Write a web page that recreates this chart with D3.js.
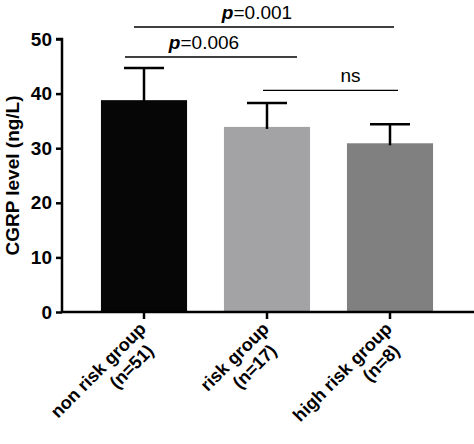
<!DOCTYPE html>
<html><head><meta charset="utf-8">
<script src="https://cdn.jsdelivr.net/npm/d3@7"></script>
<style>body{margin:0;background:#fff}text{font-family:"Liberation Sans",Arial,sans-serif}</style>
</head><body><div id="chart"></div>
<script>
const groups = ["non risk group|(n=51)", "risk group|(n=17)", "high risk group|(n=8)"];
const means = [38.8, 33.9, 30.9];
const errs = [5.9, 4.4, 3.5];
const colors = ["#060606", "#a3a3a5", "#808080"];
const yTicks = [0, 10, 20, 30, 40, 50];
const brackets = [
  { from: 0, to: 2, y: 52.2, label: "0.001", p: true, x0: -10, x1: 4 },
  { from: 0, to: 1, y: 46.7, label: "0.006", p: true, x0: -19, x1: 30 },
  { from: 1, to: 2, y: 40.6, label: "ns", p: false, x0: -4, x1: 8 }
];

const W = 474, H = 444;
const svg = d3.select("#chart").append("svg").attr("width", W).attr("height", H);

const x = d3.scaleBand().domain(groups).range([82.5, 451.5]).paddingInner(0.3).paddingOuter(0.15);
const y = d3.scaleLinear().domain([0, 50]).range([312, 39]);
const axisX = 62;

// Bars
svg.selectAll("rect.bar").data(groups).enter().append("rect")
  .attr("x", d => x(d)).attr("width", x.bandwidth())
  .attr("y", (d, i) => y(means[i])).attr("height", (d, i) => y(0) - y(means[i]))
  .attr("fill", (d, i) => colors[i]);

// Error bars
groups.forEach((g, i) => {
  const cx = x(g) + x.bandwidth() / 2;
  svg.append("line").attr("x1", cx).attr("x2", cx).attr("y1", y(means[i]) + 2).attr("y2", y(means[i] + errs[i]))
    .attr("stroke", "#000").attr("stroke-width", 2.5);
  svg.append("line").attr("x1", cx - 20).attr("x2", cx + 20).attr("y1", y(means[i] + errs[i])).attr("y2", y(means[i] + errs[i]))
    .attr("stroke", "#000").attr("stroke-width", 2.5);
});

// Y axis
const ya = svg.append("g").attr("transform", `translate(${axisX},0)`)
  .call(d3.axisLeft(y).tickValues(yTicks).tickSize(6).tickPadding(4));
ya.select(".domain").attr("stroke-width", 2.5).attr("d", `M-6,${y(50)}H0V${y(0)}`);
ya.selectAll(".tick line").attr("stroke-width", 2.5);
ya.selectAll(".tick text").attr("font-size", 19).attr("font-weight", "bold").attr("fill", "#000");

// X axis
svg.append("line").attr("x1", axisX - 1).attr("x2", W).attr("y1", y(0)).attr("y2", y(0))
  .attr("stroke", "#000").attr("stroke-width", 2.5);
const xa = svg.append("g").attr("transform", `translate(0,${y(0)})`)
  .call(d3.axisBottom(x).tickSize(7).tickFormat(""));
xa.select(".domain").remove();
xa.selectAll(".tick line").attr("stroke-width", 2.5);

groups.forEach(g => {
  const cx = x(g) + x.bandwidth() / 2;
  const parts = g.split("|");
  const t = svg.append("text").attr("transform", `translate(${cx + 3},${y(0) + 18}) rotate(-45)`)
    .attr("text-anchor", "middle").attr("font-size", 18).attr("font-weight", "bold");
  t.append("tspan").attr("x", -68 + (parts[0].length < 12 ? 0 : 0)).attr("dx", 0).attr("y", 0).text(parts[0])
    .attr("text-anchor", "end").attr("x", 0);
  t.append("tspan").attr("x", -10).attr("y", 21).attr("text-anchor", "end").text(parts[1]);
});

// Y title
svg.append("text").attr("transform", `translate(19,${(y(0) + y(50)) / 2}) rotate(-90)`)
  .attr("text-anchor", "middle").attr("font-size", 19).attr("font-weight", "bold").text("CGRP level (ng/L)");

// Significance brackets
brackets.forEach(b => {
  const a = x(groups[b.from]) + x.bandwidth() / 2 + b.x0;
  const c = x(groups[b.to]) + x.bandwidth() / 2 + b.x1;
  svg.append("line").attr("x1", a).attr("x2", c).attr("y1", y(b.y)).attr("y2", y(b.y))
    .attr("stroke", "#000").attr("stroke-width", 1.3);
  const t = svg.append("text").attr("x", (a + c) / 2 + (b.p ? -7 : 20)).attr("y", y(b.y) - 8)
    .attr("text-anchor", "middle").attr("font-size", 19);
  if (b.p) t.append("tspan").attr("font-weight", "bold").attr("font-style", "italic").text("p");
  t.append("tspan").text(b.p ? "=" + b.label : b.label);
});
</script></body></html>
